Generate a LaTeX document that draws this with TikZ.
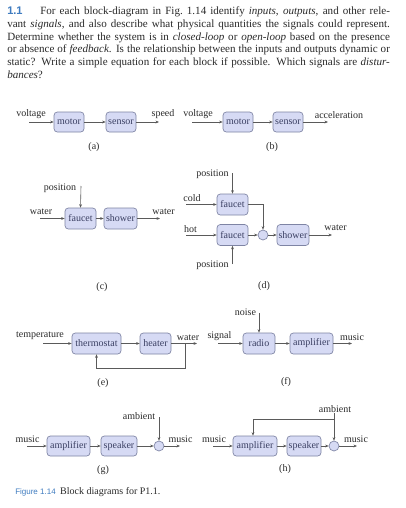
\documentclass[tikz,border=0pt]{standalone}
\usepackage{fontspec}
\setmainfont{Liberation Serif}
\newfontfamily\capfont{Liberation Sans}
\usetikzlibrary{arrows.meta,calc}
\definecolor{blueA}{HTML}{3F7CC0}
\definecolor{boxfill}{HTML}{D6DAF4}
\definecolor{boxdraw}{HTML}{7E84A4}
\definecolor{boxtext}{HTML}{3A3F62}
\definecolor{linecol}{HTML}{5A5A5A}
\definecolor{txt}{HTML}{2A2A2A}
\tikzset{
  blk/.style={draw=boxdraw, fill=boxfill, rounded corners=2.5pt, line width=0.5pt,
    minimum height=15pt, inner sep=1pt, text=boxtext, font=\fontsize{7.5}{8}\selectfont},
  bw/.style={minimum width=#1*0.75pt},
  bh/.style={minimum height=#1*0.75pt},
  sumc/.style={circle, draw=boxdraw, fill=boxfill, line width=0.5pt, minimum size=7.5pt, inner sep=0pt},
  lbl/.style={text=txt, font=\fontsize{7.5}{8}\selectfont, inner sep=0pt},
  sig/.style={draw=linecol, line width=0.45pt, -{Stealth[length=2.6pt,width=2.1pt]}},
  ln/.style={draw=linecol, line width=0.45pt},
}
\begin{document}
\begin{tikzpicture}[x=0.75pt,y=-0.75pt]
\useasboundingbox (0,0) rectangle (405,508);
\fill[white] (0,0) rectangle (405,508);

% problem text
\node[anchor=north west, inner sep=0pt, text width=287pt, align=justify, text=txt,
      font=\fontsize{8.3}{9.6}\selectfont] (para) at (7,6.5) {%
\makebox[24.75pt][l]{\textcolor{blueA}{\capfont\bfseries 1.1}}For each block-diagram in Fig.~1.14 identify \emph{inputs}, \emph{outputs}, and other rele-\linebreak
vant \emph{signals}, and also describe what physical quantities the signals could represent.\linebreak
Determine whether the system is in \emph{closed-loop} or \emph{open-loop} based on the presence\linebreak
or absence of \emph{feedback}. Is the relationship between the inputs and outputs dynamic or\linebreak
static? Write a simple equation for each block if possible. Which signals are \emph{distur-}\linebreak
\emph{bances}?};

% (a)
\node[blk,bw=30] (amot) at (69,122) {motor};
\node[blk,bw=30] (asen) at (121,122) {sensor};
\coordinate (ain) at (29,122);
\coordinate (aout) at (159,122);
\draw[sig] (ain) -- (amot);
\draw[sig] (amot) -- (asen);
\draw[sig] (asen) -- (aout);
\node[lbl] (avl) at (31,114) {voltage};
\node[lbl] (asp) at (163,114) {speed};
\node[lbl] (acap) at (94,147) {(a)};

% (b)
\node[blk,bw=30] (bmot) at (238,122) {motor};
\node[blk,bw=30] (bsen) at (288,122) {sensor};
\coordinate (bin) at (192,122);
\coordinate (bout) at (328,122);
\draw[sig] (bin) -- (bmot);
\draw[sig] (bmot) -- (bsen);
\draw[sig] (bsen) -- (bout);
\node[lbl] (bvl) at (198,114) {voltage};
\node[lbl] (bac) at (339,115) {acceleration};
\node[lbl] (bcap) at (272,147) {(b)};

% (c)
\node[blk,bw=31,bh=21] (cfau) at (80.5,218.5) {faucet};
\node[blk,bw=33,bh=21] (cshw) at (120.5,218.5) {shower};
\coordinate (cin) at (40,218.5);
\coordinate (cout) at (160,218.5);
\coordinate (cpos) at (81,186);
\draw[sig] (cin) -- (cfau);
\draw[sig] (cfau) -- (cshw);
\draw[sig] (cshw) -- (cout);
\draw[sig] (cpos) -- (cfau.north);
\node[lbl] (cw1) at (41,212) {water};
\node[lbl] (cw2) at (163.5,212) {water};
\node[lbl] (cpl) at (60,188) {position};
\node[lbl] (ccap) at (102,287) {(c)};

% (d)
\node[blk,bw=31,bh=21] (dfa1) at (232.5,204.5) {faucet};
\node[blk,bw=31,bh=21] (dfa2) at (232.5,235) {faucet};
\node[sumc] (dsum) at (263,235) {};
\node[blk,bw=32,bh=21] (dshw) at (293,235) {shower};
\coordinate (dcold) at (186,204.5);
\coordinate (dhot) at (186,235);
\coordinate (dout) at (332,235);
\coordinate (dp1) at (232.5,173);
\coordinate (dp2) at (232.5,264);
\draw[sig] (dcold) -- (dfa1);
\draw[sig] (dhot) -- (dfa2);
\draw[sig] (dp1) -- (dfa1.north);
\draw[sig] (dp2) -- (dfa2.south);
\draw[sig] (dfa1.east) -| (dsum.north);
\draw[sig] (dfa2) -- (dsum);
\draw[sig] (dsum) -- (dshw);
\draw[sig] (dshw) -- (dout);
\node[lbl] (dcl) at (192,198) {cold};
\node[lbl] (dhl) at (190.5,229) {hot};
\node[lbl] (dpl1) at (212.5,174) {position};
\node[lbl] (dpl2) at (212.5,265) {position};
\node[lbl] (dwl) at (335.5,228) {water};
\node[lbl] (dcap) at (264,286) {(d)};

% (e)
\node[blk,bw=49,bh=21] (ethe) at (96.5,343.5) {thermostat};
\node[blk,bw=31,bh=21] (ehea) at (155.5,343.5) {heater};
\coordinate (ein) at (43,343.5);
\coordinate (eout) at (197,343.5);
\coordinate (efb) at (185,343.5);
\coordinate (efb2) at (185,368);
\draw[sig] (ein) -- (ethe);
\draw[sig] (ethe) -- (ehea);
\draw[sig] (ehea) -- (eout);
\draw[sig] (efb) -- (efb2) -| (ethe.south);
\node[lbl] (etl) at (40,336) {temperature};
\node[lbl] (ewl) at (188,338) {water};
\node[lbl] (ecap) at (103,383) {(e)};

% (f)
\node[blk,bw=32,bh=21] (frad) at (259,343.5) {radio};
\node[blk,bw=43,bh=21] (famp) at (311.5,343.5) {amplifier};
\coordinate (fin) at (218,343.5);
\coordinate (fout) at (352,343.5);
\coordinate (fno) at (259,313);
\draw[sig] (fin) -- (frad);
\draw[sig] (frad) -- (famp);
\draw[sig] (famp) -- (fout);
\draw[sig] (fno) -- (frad.north);
\node[lbl] (fsl) at (219.5,336) {signal};
\node[lbl] (fml) at (352,337) {music};
\node[lbl] (fnl) at (245.5,312) {noise};
\node[lbl] (fcap) at (286,382) {(f)};

% (g)
\node[blk,bw=43,bh=20] (gamp) at (68.5,446) {amplifier};
\node[blk,bw=36,bh=20] (gspk) at (119,446) {speaker};
\node[sumc] (gsum) at (159,446) {};
\coordinate (gin) at (27,446);
\coordinate (gout) at (180,446);
\coordinate (gamb) at (159,417);
\draw[sig] (gin) -- (gamp);
\draw[sig] (gamp) -- (gspk);
\draw[sig] (gspk) -- (gsum);
\draw[sig] (gsum) -- (gout);
\draw[sig] (gamb) -- (gsum.north);
\node[lbl] (gml) at (27.5,439) {music};
\node[lbl] (gal) at (139,416) {ambient};
\node[lbl] (gmr) at (180.5,439) {music};
\node[lbl] (gcap) at (103,470) {(g)};

% (h)
\node[blk,bw=44,bh=20] (hamp) at (255,446) {amplifier};
\node[blk,bw=34,bh=20] (hspk) at (304,446) {speaker};
\node[sumc] (hsum) at (334,446) {};
\coordinate (hin) at (213,446);
\coordinate (hout) at (357,446);
\coordinate (hamb) at (334,413);
\coordinate (hj) at (334,419);
\coordinate (hk) at (253,419);
\draw[sig] (hin) -- (hamp);
\draw[sig] (hamp) -- (hspk);
\draw[sig] (hspk) -- (hsum);
\draw[sig] (hsum) -- (hout);
\draw[sig] (hamb) -- (hsum.north);
\draw[sig] (hj) -- (hk) -- (hk |- hamp.north);
\node[lbl] (hml) at (214,439) {music};
\node[lbl] (hal) at (335,409) {ambient};
\node[lbl] (hmr) at (356,439) {music};
\node[lbl] (hcap) at (285,469) {(h)};

% caption
\node[anchor=west, inner sep=0pt, text=txt, font=\fontsize{7.5}{8}\selectfont] (cap) at (15,492)
  {\textcolor{blueA}{\capfont\fontsize{6}{7}\selectfont Figure 1.14}\hspace{0.45em}Block diagrams for P1.1.};
\end{tikzpicture}
\end{document}
